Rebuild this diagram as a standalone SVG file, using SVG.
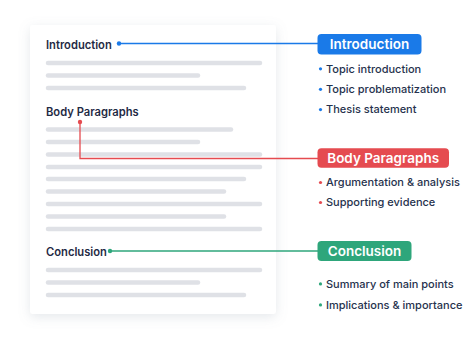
<svg xmlns="http://www.w3.org/2000/svg" width="474" height="339" viewBox="0 0 474 339">
<defs>
<filter id="sh" x="-20%" y="-20%" width="140%" height="140%">
<feDropShadow dx="0" dy="3" stdDeviation="6" flood-color="#8a94a6" flood-opacity="0.22"/>
</filter>
</defs>
<style>
.head{font-family:Inter,"Open Sans",sans-serif;font-size:11.2px;font-weight:600;fill:#1f2a44}
.item{font-family:Inter,"Open Sans",sans-serif;font-size:11px;font-weight:500;fill:#26324d}
.badge{font-family:Inter,"Open Sans",sans-serif;font-size:13.5px;font-weight:600;fill:#ffffff}
.ln{stroke:#dfe1e6;stroke-width:4.5;stroke-linecap:round}
.conn{fill:none;stroke-width:1.3}
</style>
<rect x="0" y="0" width="474" height="339" fill="#ffffff"/>
<g id="page">
<rect x="30" y="25" width="246" height="289" rx="3" fill="#ffffff" filter="url(#sh)"/>
<g class="ln">
<line x1="48" y1="63" x2="260" y2="63"/>
<line x1="48" y1="75.5" x2="198" y2="75.5"/>
<line x1="48" y1="88" x2="244" y2="88"/>
<line x1="48" y1="129.5" x2="231" y2="129.5"/>
<line x1="48" y1="142" x2="198" y2="142"/>
<line x1="48" y1="154.5" x2="260" y2="154.5"/>
<line x1="48" y1="167" x2="260" y2="167"/>
<line x1="48" y1="179" x2="244" y2="179"/>
<line x1="48" y1="191.5" x2="224" y2="191.5"/>
<line x1="48" y1="204" x2="260" y2="204"/>
<line x1="48" y1="216.5" x2="224" y2="216.5"/>
<line x1="48" y1="229" x2="260" y2="229"/>
<line x1="48" y1="270" x2="260" y2="270"/>
<line x1="48" y1="282.5" x2="198" y2="282.5"/>
<line x1="48" y1="295" x2="244" y2="295"/>
</g>
<text class="head" x="46" y="49">Introduction</text>
<text class="head" x="46" y="116">Body Paragraphs</text>
<text class="head" x="46" y="256">Conclusion</text>
</g>
<g id="connectors">
<path class="conn" stroke="#1a7ae8" d="M119 43.5H318"/>
<circle cx="119" cy="43.5" r="2.2" fill="#1a7ae8"/>
<path class="conn" stroke="#e54b50" d="M80 122V158.5H318"/>
<circle cx="80" cy="122" r="2.2" fill="#e54b50"/>
<path class="conn" stroke="#2ea67b" d="M110 251H318"/>
<circle cx="110" cy="251" r="2.2" fill="#2ea67b"/>
</g>
<g id="intro">
<rect x="317.5" y="34" width="104" height="20.5" rx="4" fill="#1a7ae8"/>
<text class="badge" x="369.5" y="49" text-anchor="middle">Introduction</text>
<circle cx="320.5" cy="68.8" r="1.6" fill="#1a7ae8"/>
<text class="item" x="326" y="72.5">Topic introduction</text>
<circle cx="320.5" cy="89.3" r="1.6" fill="#1a7ae8"/>
<text class="item" x="326" y="93">Topic problematization</text>
<circle cx="320.5" cy="109.6" r="1.6" fill="#1a7ae8"/>
<text class="item" x="326" y="113.3">Thesis statement</text>
</g>
<g id="body">
<rect x="317.5" y="148.3" width="131.5" height="19.5" rx="4" fill="#e54b50"/>
<text class="badge" x="383.2" y="163" text-anchor="middle">Body Paragraphs</text>
<circle cx="320.5" cy="182.5" r="1.6" fill="#e54b50"/>
<text class="item" x="326" y="186.2">Argumentation &amp; analysis</text>
<circle cx="320.5" cy="202.5" r="1.6" fill="#e54b50"/>
<text class="item" x="326" y="206.2">Supporting evidence</text>
</g>
<g id="conclusion">
<rect x="317.5" y="241" width="94" height="20" rx="4" fill="#2ea67b"/>
<text class="badge" x="364.5" y="256" text-anchor="middle">Conclusion</text>
<circle cx="320.5" cy="283.9" r="1.6" fill="#2ea67b"/>
<text class="item" x="326" y="287.6">Summary of main points</text>
<circle cx="320.5" cy="304.9" r="1.6" fill="#2ea67b"/>
<text class="item" x="326" y="308.6">Implications &amp; importance</text>
</g>
</svg>
